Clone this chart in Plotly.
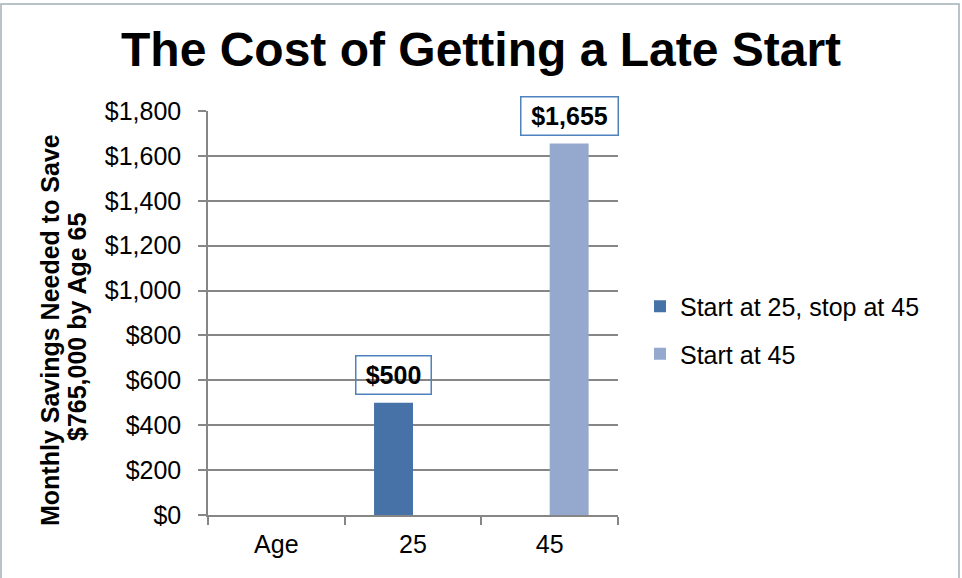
import plotly.graph_objects as go

categories = ["Age", "25", "45"]
series1_name = "Start at 25, stop at 45"
series1_values = [None, 500, None]
series2_name = "Start at 45"
series2_values = [None, None, 1655]
y_ticks = [0, 200, 400, 600, 800, 1000, 1200, 1400, 1600, 1800]
y_tick_labels = ["$" + format(v, ",") for v in y_ticks]
y_title_lines = ["Monthly Savings Needed to Save", "$765,000 by Age 65"]

W, H = 962, 578
L, R, T, B = 208, 344, 111, 63
pw, ph = W - L - R, H - T - B

c1 = "#4672A8"
c2 = "#95A9CE"
grid = "#868686"
font = "Liberation Sans, Arial, sans-serif"

fig = go.Figure()
fig.add_trace(go.Bar(x=categories, y=series1_values, name=series1_name, legendgroup="a",
                     marker=dict(color=c1, line=dict(width=0))))
fig.add_trace(go.Bar(x=categories, y=series2_values, name=series2_name, legendgroup="b",
                     marker=dict(color=c2, line=dict(width=0))))

offsets = [-0.145, 0.145]
for k, vals in enumerate((series1_values, series2_values)):
    for i, v in enumerate(vals):
        if v is not None:
            txt = "$" + format(v, ",")
            fig.add_annotation(x=i + offsets[k], y=v, xref="x", yref="y", text=txt, showarrow=False,
                               yanchor="bottom", yshift=8,
                               width=11 * len(txt) + 24, height=31,
                               font=dict(family=font, size=25, color="black", weight="bold"),
                               bordercolor="#4F81BD", borderwidth=1.5, borderpad=3,
                               bgcolor="rgba(255,255,255,0)")

fig.add_annotation(text="The Cost of Getting a Late Start", xref="paper", yref="paper",
                   x=(481 - L) / pw, y=(515 - 49) / ph, showarrow=False,
                   xanchor="center", yanchor="middle",
                   font=dict(family="Liberation Sans, Arial", size=48,
                             color="black", weight="bold"))

for xpx, ypx, line in zip((50, 77), (330, 327), y_title_lines):
    fig.add_annotation(text=line, xref="paper", yref="paper", x=(xpx - L) / pw, y=(515 - ypx) / ph,
                       showarrow=False, textangle=-90, xanchor="center", yanchor="middle",
                       font=dict(family=font, size=25, color="black", weight="bold"))

fig.add_shape(type="rect", xref="paper", yref="paper",
              x0=(1 - L) / pw, x1=(959 - L) / pw, y0=(515 - 600) / ph, y1=(515 - 4) / ph,
              line=dict(color="#A0B0B8", width=1.5), fillcolor="rgba(0,0,0,0)", layer="below")

fig.update_layout(
    width=W, height=H,
    margin=dict(l=L, r=R, t=T, b=B),
    barmode="group", bargap=0.43, bargroupgap=0,
    paper_bgcolor="white", plot_bgcolor="white",
    font=dict(family=font, color="black"),
    showlegend=True,
    legend=dict(x=(640 - L) / pw, y=(515 - 330) / ph, xanchor="left", yanchor="middle",
                font=dict(family=font, size=25, color="black"),
                traceorder="grouped", tracegroupgap=12, itemwidth=30,
                bgcolor="rgba(0,0,0,0)"),
    xaxis=dict(type="category", categoryorder="array", categoryarray=categories,
               range=[-0.5, 2.5],
               tickson="boundaries", ticks="outside", ticklen=8, tickcolor=grid, tickwidth=1.5,
               showline=True, linecolor=grid, linewidth=1.5, ticklabelstandoff=6,
               tickfont=dict(family=font, size=25, color="black"), showgrid=False),
    yaxis=dict(range=[0, 1800], tickvals=y_ticks, ticktext=y_tick_labels,
               ticks="outside", ticklen=8, tickcolor=grid, tickwidth=1.5,
               showline=True, linecolor=grid, linewidth=1.5,
               showgrid=True, gridcolor=grid, gridwidth=1.5, zeroline=False,
               ticklabelstandoff=12,
               tickfont=dict(family=font, size=25, color="black")),
)

fig.write_html("out.html")
